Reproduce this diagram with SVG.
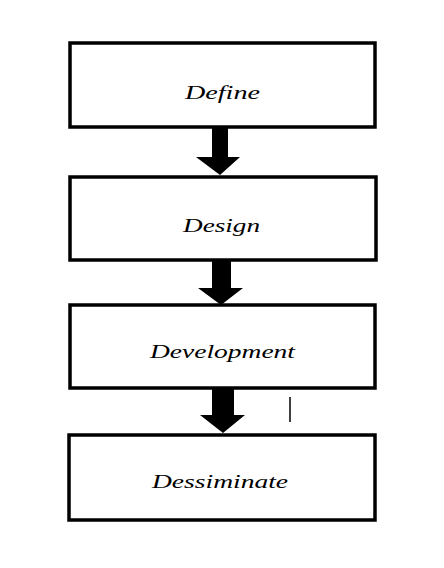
<svg xmlns="http://www.w3.org/2000/svg" width="444" height="568" viewBox="0 0 444 568">
<style>
.box{fill:#fff;stroke:#000;stroke-width:3.5}
.lbl{font-family:"Liberation Serif","Times New Roman",serif;font-style:italic;font-size:19px;fill:#000}
.arr{fill:#000}
</style>
<rect width="444" height="568" fill="#fff"/>
<g id="connectors">
<path class="arr" d="M212,127 H228 V157 H240 L220,175 L196,157 H212 Z"/>
<path class="arr" d="M212,260 H231 V288 H243 L221,305 L198,288 H212 Z"/>
<path class="arr" d="M212,388 H234 V415 H245 L223,433 L200,415 H212 Z"/>
<line x1="290" y1="397" x2="290" y2="422" stroke="#000" stroke-width="1.5"/>
</g>
<g id="define">
<rect class="box" x="70" y="43" width="305" height="84"/>
<text class="lbl" x="185" y="99" textLength="75" lengthAdjust="spacingAndGlyphs">Define</text>
</g>
<g id="design">
<rect class="box" x="70" y="177" width="306" height="83"/>
<text class="lbl" x="183" y="232" textLength="77" lengthAdjust="spacingAndGlyphs">Design</text>
</g>
<g id="development">
<rect class="box" x="70" y="305" width="305" height="83"/>
<text class="lbl" x="150" y="358" textLength="145" lengthAdjust="spacingAndGlyphs">Development</text>
</g>
<g id="dessiminate">
<rect class="box" x="69" y="435" width="306" height="85"/>
<text class="lbl" x="152" y="488" textLength="136" lengthAdjust="spacingAndGlyphs">Dessiminate</text>
</g>
</svg>
